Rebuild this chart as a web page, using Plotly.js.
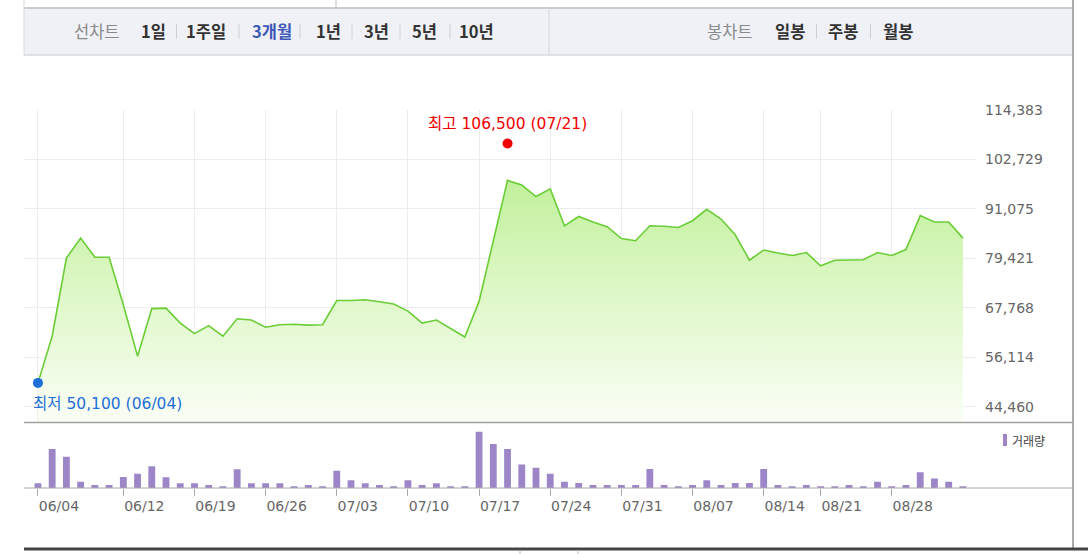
<!DOCTYPE html>
<html><head><meta charset="utf-8">
<script src="https://cdn.plot.ly/plotly-3.0.1.min.js"></script>
<style>html,body{margin:0;padding:0;background:#fff;overflow:hidden}#chart{width:1088px;height:554px}</style>
</head><body><div id="chart"></div>
<script>
// ---- data ----
const dates = ['06/04','06/05','06/08','06/09','06/10','06/11','06/12','06/15','06/16','06/17','06/18','06/19','06/22','06/23','06/24','06/25','06/26','06/29','06/30',
  '07/01','07/02','07/03','07/06','07/07','07/08','07/09','07/10','07/13','07/14','07/15','07/16','07/17','07/20','07/21','07/22','07/23','07/24','07/27','07/28','07/29','07/30','07/31',
  '08/03','08/04','08/05','08/06','08/07','08/10','08/11','08/12','08/13','08/14','08/18','08/19','08/20','08/21','08/24','08/25','08/26','08/27','08/28','08/31',
  '09/01','09/02','09/03','09/04'];
const closePrices = [50100,61100,79500,84200,79700,79700,68500,56400,67600,67700,64200,61700,63600,61100,65200,64900,63200,63800,63900,63700,63800,
  69500,69500,69700,69200,68700,67000,64200,64900,62900,60900,69300,83500,97800,96700,94000,95800,87100,89300,88000,86900,84100,
  83600,87100,87000,86700,88300,91000,88700,85000,79000,81400,80700,80100,80800,77700,79000,79000,79100,80800,80100,81500,
  89500,88000,88000,84200];
const volumes = [480,3860,3100,620,310,310,1100,1410,2170,1070,480,480,310,170,1860,480,480,480,170,310,170,
  1720,760,480,310,170,760,310,480,170,170,5580,4370,3860,2340,2000,1420,630,490,310,310,310,
  310,1890,310,170,310,770,310,490,490,1890,310,170,310,170,170,310,170,630,170,310,
  1570,940,630,170];
const xTickLabels = ['06/04','06/12','06/19','06/26','07/03','07/10','07/17','07/24','07/31','08/07','08/14','08/21','08/28'];
const yTickValues = [44460,56114,67768,79421,91075,102729,114383];
const yTickLabels = ['44,460','56,114','67,768','79,421','91,075','102,729','114,383'];
const highDate = ['07/21'], highValue = [106500];
const lowDate = ['06/04'], lowValue = [50100];
const lineTabs = ['1일','1주일','3개월','1년','3년','5년','10년'];
const candleTabs = ['일봉','주봉','월봉'];

// ---- helpers: page pixel -> paper ----
const W = 1088, H = 554;
const PX = x => x / W, PY = y => 1 - y / H;
const fnum = v => v.toLocaleString('en-US');

const traces = [
  {type:'scatter', mode:'lines', x:dates, y:closePrices, xaxis:'x', yaxis:'y',
   line:{color:'#6acd36', width:1.6}, fill:'tozeroy',
   fillgradient:{type:'vertical', start:40770, stop:106000,
     colorscale:[[0,'rgba(250,254,246,1)'],[0.5,'rgba(220,247,196,1)'],[1,'rgba(184,238,142,1)']]},
   hoverinfo:'skip', showlegend:false},
  {type:'scatter', mode:'markers', x:highDate, y:highValue, xaxis:'x', yaxis:'y',
   marker:{color:'#f20000', size:10}, showlegend:false, hoverinfo:'skip', cliponaxis:false},
  {type:'scatter', mode:'markers', x:lowDate, y:lowValue, xaxis:'x', yaxis:'y',
   marker:{color:'#1f6fd8', size:10}, showlegend:false, hoverinfo:'skip', cliponaxis:false},
  {type:'bar', x:dates, y:volumes, xaxis:'x2', yaxis:'y2',
   marker:{color:'#9d86c8', line:{width:0}}, showlegend:false, hoverinfo:'skip'}
];

const xDomain = [PX(24), PX(976)];
const xRange = [-0.98, 65.92];
const tickFont = {family:'DejaVu Sans, sans-serif', size:14, color:'#666'};
const annFont = 'DejaVu Sans, Noto Sans CJK KR, sans-serif';

const anns = [];
const shapes = [];
// top tab bar
shapes.push({type:'rect', xref:'paper', yref:'paper', x0:PX(24), x1:PX(1073), y0:PY(55), y1:PY(8),
  fillcolor:'#eff1f6', line:{width:0}, layer:'below'});
shapes.push({type:'line', xref:'paper', yref:'paper', x0:PX(24), x1:PX(1073), y0:PY(8), y1:PY(8), line:{color:'#bdbdbd', width:1.5}});
shapes.push({type:'line', xref:'paper', yref:'paper', x0:PX(24), x1:PX(1073), y0:PY(55), y1:PY(55), line:{color:'#d6d8dd', width:1.5}});
shapes.push({type:'line', xref:'paper', yref:'paper', x0:PX(24), x1:PX(24), y0:PY(0), y1:PY(55), line:{color:'#d6d8dd', width:1}});
shapes.push({type:'line', xref:'paper', yref:'paper', x0:PX(549), x1:PX(549), y0:PY(8), y1:PY(55), line:{color:'#d6d8dd', width:1}});
shapes.push({type:'line', xref:'paper', yref:'paper', x0:PX(336), x1:PX(336), y0:PY(0), y1:PY(8), line:{color:'#bdbdbd', width:1}});
// right frame border
shapes.push({type:'line', xref:'paper', yref:'paper', x0:PX(1073), x1:PX(1073), y0:PY(0), y1:PY(549), line:{color:'#aaaaaa', width:2}});
// panel separator & volume baseline
shapes.push({type:'line', xref:'paper', yref:'paper', x0:PX(24), x1:PX(1073), y0:PY(422.5), y1:PY(422.5), line:{color:'#a0a0a0', width:1.5}});
shapes.push({type:'line', xref:'paper', yref:'paper', x0:PX(24), x1:PX(1073), y0:PY(488), y1:PY(488), line:{color:'#aaaaaa', width:1}});
// bottom dark rule and small tab
shapes.push({type:'line', xref:'paper', yref:'paper', x0:PX(24), x1:PX(1088), y0:PY(549), y1:PY(549), line:{color:'#444444', width:3}});
shapes.push({type:'line', xref:'paper', yref:'paper', x0:PX(520), x1:PX(520), y0:PY(550), y1:PY(554), line:{color:'#bbbbbb', width:1}});
shapes.push({type:'line', xref:'paper', yref:'paper', x0:PX(578), x1:PX(578), y0:PY(550), y1:PY(554), line:{color:'#bbbbbb', width:1}});
// legend swatch
shapes.push({type:'rect', xref:'paper', yref:'paper', x0:PX(1003), x1:PX(1007), y0:PY(446), y1:PY(434),
  fillcolor:'#9d86c8', line:{width:0}});
anns.push({xref:'paper', yref:'paper', x:PX(1010), y:PY(440), xanchor:'left', yanchor:'middle', showarrow:false,
  text:'거래량', font:{family:'Noto Sans CJK KR, sans-serif', size:12, color:'#444'}});

// tab bar texts
const kr = 'Noto Sans CJK KR, sans-serif';
const tabY = PY(31);
const tabSize = 16.5;
anns.push({xref:'paper', yref:'paper', x:PX(97), y:tabY, xanchor:'center', yanchor:'middle', showarrow:false,
  text:'선차트', font:{family:kr, size:tabSize, color:'#8a8a8a'}});
const lineTabX = [153, 206, 272, 328, 376, 424, 476];
lineTabs.forEach((t, i) => {
  anns.push({xref:'paper', yref:'paper', x:PX(lineTabX[i]), y:tabY, xanchor:'center', yanchor:'middle', showarrow:false,
    text:'<b>'+t+'</b>', font:{family:kr, size:tabSize, color: t==='3개월' ? '#3e58b6' : '#333'}});
  if (i < lineTabs.length-1) {
    const sx = (lineTabX[i] + lineTabX[i+1]) / 2 + (i===0?-3:0);
    shapes.push({type:'line', xref:'paper', yref:'paper', x0:PX(sx), x1:PX(sx), y0:PY(24), y1:PY(39), line:{color:'#d0d0d0', width:1}});
  }
});
anns.push({xref:'paper', yref:'paper', x:PX(730), y:tabY, xanchor:'center', yanchor:'middle', showarrow:false,
  text:'봉차트', font:{family:kr, size:tabSize, color:'#8a8a8a'}});
const candleTabX = [790, 843, 898];
candleTabs.forEach((t, i) => {
  anns.push({xref:'paper', yref:'paper', x:PX(candleTabX[i]), y:tabY, xanchor:'center', yanchor:'middle', showarrow:false,
    text:'<b>'+t+'</b>', font:{family:kr, size:tabSize, color:'#333'}});
  if (i < candleTabs.length-1) {
    const sx = (candleTabX[i] + candleTabX[i+1]) / 2;
    shapes.push({type:'line', xref:'paper', yref:'paper', x0:PX(sx), x1:PX(sx), y0:PY(24), y1:PY(39), line:{color:'#d0d0d0', width:1}});
  }
});

// high / low labels
anns.push({xref:'x', yref:'y', x:highDate[0], y:highValue[0], xanchor:'center', yanchor:'bottom', yshift:8, showarrow:false,
  text:'최고 '+fnum(highValue[0])+' ('+highDate[0]+')', font:{family:annFont, size:15.5, color:'#f20000'}});
anns.push({xref:'x', yref:'y', x:lowDate[0], y:lowValue[0], xanchor:'left', yanchor:'top', xshift:-7, yshift:-10, showarrow:false,
  text:'최저 '+fnum(lowValue[0])+' ('+lowDate[0]+')', font:{family:annFont, size:15.5, color:'#1f6fd8'}});

const layout = {
  width:W, height:H, margin:{l:0, r:0, t:0, b:0},
  paper_bgcolor:'#fff', plot_bgcolor:'rgba(0,0,0,0)',
  bargap:0.52,
  xaxis:{type:'category', domain:xDomain, range:xRange, anchor:'y',
    tickvals:xTickLabels, ticktext:xTickLabels, showticklabels:false, ticks:'',
    showgrid:true, gridcolor:'#ececec', gridwidth:1, zeroline:false, showline:false, fixedrange:true},
  yaxis:{domain:[PY(422.5), PY(110)], range:[40770, 114383], side:'right', anchor:'x',
    tickvals:yTickValues, ticktext:yTickLabels, ticks:'', ticklabelstandoff:8,
    tickfont:tickFont, showgrid:true, gridcolor:'#ececec', gridwidth:1, zeroline:false, showline:false, fixedrange:true},
  xaxis2:{type:'category', domain:xDomain, range:xRange, anchor:'y2', matches:'x',
    tickvals:xTickLabels, ticktext:xTickLabels, ticks:'outside', ticklen:7, tickcolor:'#aaaaaa', tickwidth:1,
    ticklabelshift:21, ticklabelstandoff:-2, tickfont:tickFont,
    showgrid:false, zeroline:false, showline:false, fixedrange:true},
  yaxis2:{domain:[PY(488), PY(422.5)], range:[0, 6500], anchor:'x2', showticklabels:false, ticks:'',
    showgrid:false, zeroline:false, showline:false, fixedrange:true},
  shapes:shapes, annotations:anns, showlegend:false
};
Plotly.newPlot('chart', traces, layout, {displayModeBar:false, staticPlot:true});
</script></body></html>
